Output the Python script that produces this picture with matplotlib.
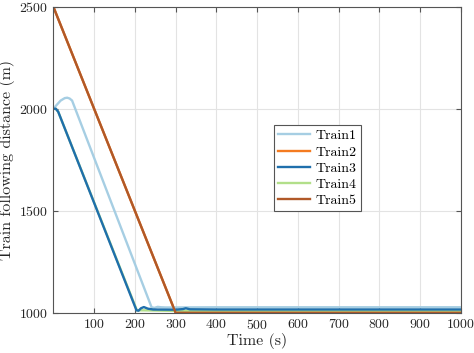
import matplotlib.pyplot as plt
import numpy as np

OUTPUT_PATH = 'out.png'

# time stamps (s) and following distance (m)
T1 = [0, 8, 18, 28, 34, 40, 46, 241, 248, 256, 264, 275, 300, 400, 600, 800, 1000]
D1 = [2000, 2018, 2040, 2052, 2054, 2050, 2040, 1027, 1024, 1029, 1027, 1026, 1026, 1027, 1027, 1027, 1027]

T2 = [0, 300, 310, 400, 600, 800, 1000]
D2 = [2500, 1000, 1001, 1002, 1002, 1002, 1002]

T3 = [0, 6, 12, 204, 209, 215, 222, 232, 245, 300, 318, 325, 335, 400, 600, 800, 1000]
D3 = [2000, 2000, 1985, 1012, 1010, 1022, 1028, 1020, 1016, 1015, 1018, 1022, 1017, 1016, 1016, 1016, 1016]

T4 = [0, 6, 12, 205, 220, 300, 400, 600, 800, 1000]
D4 = [2000, 2000, 1985, 1012, 1012, 1009, 1008, 1008, 1008, 1008]

T5 = [0, 300, 310, 400, 600, 800, 1000]
D5 = [2500, 1000, 1000, 1000, 1000, 1000, 1000]

SERIES = [
    ('Train1', T1, D1, '#a6cee3', 2.1),
    ('Train2', T2, D2, '#f47b20', 1.9),
    ('Train3', T3, D3, '#1f6fac', 2.3),
    ('Train4', T4, D4, '#b2df8a', 1.9),
    ('Train5', T5, D5, '#b15928', 2.5),
]

X_TICKS = [100, 200, 300, 400, 500, 600, 700, 800, 900, 1000]
Y_TICKS = [1000, 1500, 2000, 2500]

plt.rcParams['font.family'] = 'serif'
plt.rcParams['font.serif'] = ['cmr10', 'DejaVu Serif']
plt.rcParams['axes.formatter.use_mathtext'] = True

fig = plt.figure(figsize=(4.74, 3.53), dpi=100)
ax = fig.add_axes([0.1125, 0.114, 0.860, 0.867])

for name, t, d, color, z in SERIES:
    ax.plot(t, d, color=color, linewidth=1.7, label=name, zorder=z)

ax.set_xlim(0, 1000)
ax.set_ylim(1000, 2500)
ax.set_xticks(X_TICKS)
ax.set_yticks(Y_TICKS)
ax.grid(True, color='#e3e3e3', linewidth=0.8)
ax.set_axisbelow(True)
ax.tick_params(direction='in', top=True, right=True, labelsize=10,
               color='#555555', length=3.5, labelcolor='#262626')
for spine in ax.spines.values():
    spine.set_color('#555555')
    spine.set_linewidth(0.8)
    spine.set_zorder(3)

ax.set_xlabel('Time (s)', fontsize=11.5, color='#262626', labelpad=1)
ax.set_ylabel('Train following distance (m)', fontsize=11.5, color='#262626', labelpad=3)

leg = ax.legend(loc='upper left', bbox_to_anchor=(0.541, 0.612), fontsize=10,
                frameon=True, fancybox=False, edgecolor='#555555', framealpha=1,
                borderaxespad=0, handlelength=2.3, borderpad=0.3, labelspacing=0.25,
                handletextpad=0.4)
leg.get_frame().set_linewidth(0.8)
leg.set_zorder(5)

fig.savefig(OUTPUT_PATH, dpi=100)
